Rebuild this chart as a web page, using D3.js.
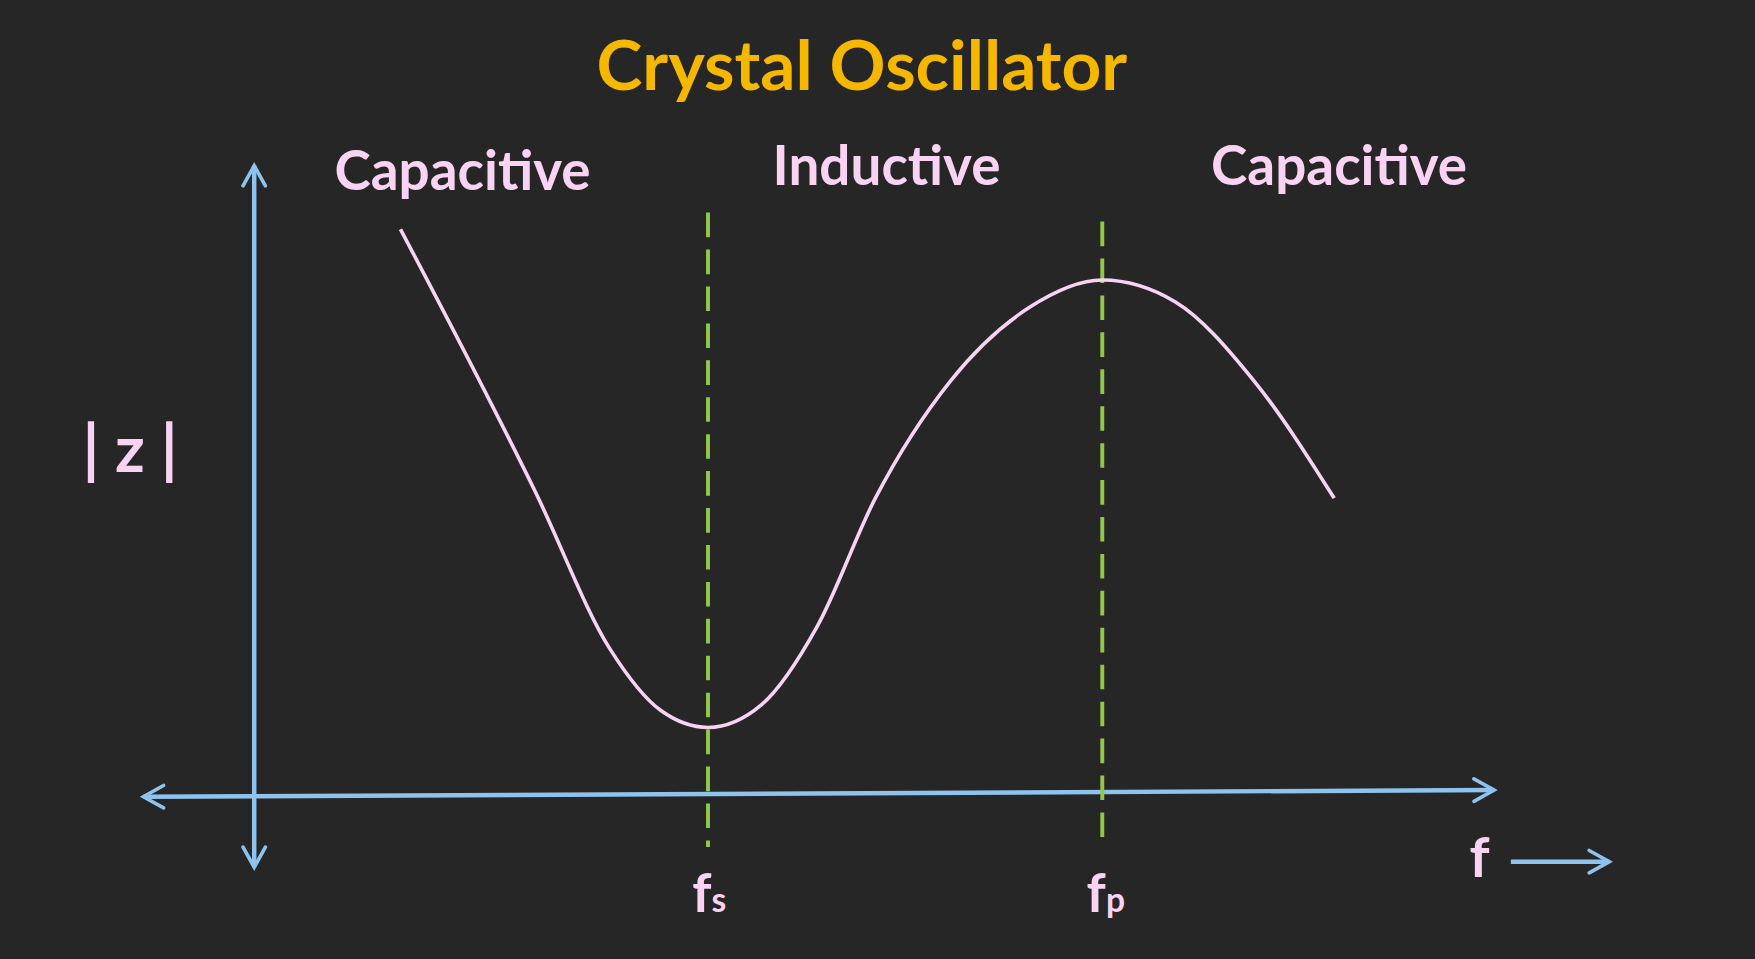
<!DOCTYPE html>
<html><head><meta charset="utf-8">
<script src="https://cdn.jsdelivr.net/npm/d3@7"></script>
<style>html,body{margin:0;background:#262626;overflow:hidden}</style>
</head><body><div id="chart"></div>
<script>
// |Z| versus f for a crystal (normalised units 0..10)
const freq = [1.18, 2.27, 2.87, 3.28, 3.66, 4.09, 4.54, 5.01, 5.62, 6.25, 6.84, 7.43, 8.06, 8.71];
const impedance = [9.02, 4.82, 2.32, 1.34, 1.07, 1.43, 2.68, 4.73, 6.61, 7.77, 8.21, 7.86, 6.61, 4.73];
const markers = [{f: 3.66, label: 'f', sub: 's'}, {f: 6.84, label: 'f', sub: 'p'}];
const regions = [{f: 1.68, text: 'Capacitive'}, {f: 5.1, text: 'Inductive'}, {f: 8.75, text: 'Capacitive'}];

const W = 1568, H = 857;
const svg = d3.select('#chart').append('svg')
  .attr('width', 1755).attr('height', 959)
  .attr('viewBox', `0 0 ${W} ${H}`);

const x = d3.scaleLinear().domain([0, 10]).range([227, 1335]);
const y = d3.scaleLinear().domain([0, 10]).range([710, 150]);

const blue = '#8ec3ee', pink = '#f9d3f2', green = '#92c84a';

const defs = svg.append('defs');
defs.append('marker').attr('id', 'arr').attr('viewBox', '0 0 12 12')
  .attr('refX', 10).attr('refY', 6).attr('markerWidth', 6).attr('markerHeight', 6)
  .attr('markerUnits', 'strokeWidth').attr('orient', 'auto-start-reverse')
  .append('path').attr('d', 'M1,1 L10,6 L1,11').attr('fill', 'none')
  .attr('stroke', blue).attr('stroke-width', 1.6).attr('stroke-linecap', 'round');

// axes
svg.append('line').attr('x1', x(0)).attr('x2', x(0)).attr('y1', 775).attr('y2', 148)
  .attr('stroke', blue).attr('stroke-width', 4)
  .attr('marker-start', 'url(#arr)').attr('marker-end', 'url(#arr)');
svg.append('line').attr('x1', 128).attr('x2', x(10)).attr('y1', 712).attr('y2', 706)
  .attr('stroke', blue).attr('stroke-width', 4)
  .attr('marker-start', 'url(#arr)').attr('marker-end', 'url(#arr)');
svg.append('line').attr('x1', 1350).attr('x2', 1438).attr('y1', 770).attr('y2', 770)
  .attr('stroke', blue).attr('stroke-width', 4).attr('marker-end', 'url(#arr)');

// dashed markers
svg.selectAll('.mk').data(markers).join('line')
  .attr('x1', d => x(d.f)).attr('x2', d => x(d.f))
  .attr('y1', (d, i) => i ? 198 : 190).attr('y2', 757)
  .attr('stroke', green).attr('stroke-width', 3.5).attr('stroke-dasharray', '22,11');

// curve
svg.append('path').datum(freq.map((f, i) => [f, impedance[i]]))
  .attr('d', d3.line().x(d => x(d[0])).y(d => y(d[1])).curve(d3.curveMonotoneX))
  .attr('fill', 'none').attr('stroke', pink).attr('stroke-width', 3.2);

const font = 'Lato, "Open Sans", sans-serif';
svg.append('text').attr('x', 770).attr('y', 80).attr('text-anchor', 'middle')
  .attr('font-family', font).attr('font-weight', 700).attr('font-size', 62)
  .attr('fill', '#f5b700').text('Crystal Oscillator');

svg.selectAll('.rg').data(regions).join('text')
  .attr('x', d => x(d.f)).attr('y', (d, i) => i === 0 ? 170 : 165)
  .attr('text-anchor', 'middle').attr('font-family', font).attr('font-weight', 700)
  .attr('font-size', 49).attr('fill', pink).text(d => d.text);

svg.append('text').attr('x', 116).attr('y', 422).attr('text-anchor', 'middle')
  .attr('font-family', font).attr('font-weight', 700).attr('font-size', 58)
  .attr('fill', pink).attr('xml:space', 'preserve').text('| z |');

const ml = svg.selectAll('.ml').data(markers).join('text')
  .attr('x', d => x(d.f) - 14).attr('y', 815)
  .attr('font-family', font).attr('font-weight', 700).attr('font-size', 48).attr('fill', pink);
ml.append('tspan').text(d => d.label);
ml.append('tspan').attr('font-size', 30).text(d => d.sub);

svg.append('text').attr('x', 1322).attr('y', 784).attr('text-anchor', 'middle')
  .attr('font-family', font).attr('font-weight', 700).attr('font-size', 50)
  .attr('fill', pink).text('f');
</script></body></html>
